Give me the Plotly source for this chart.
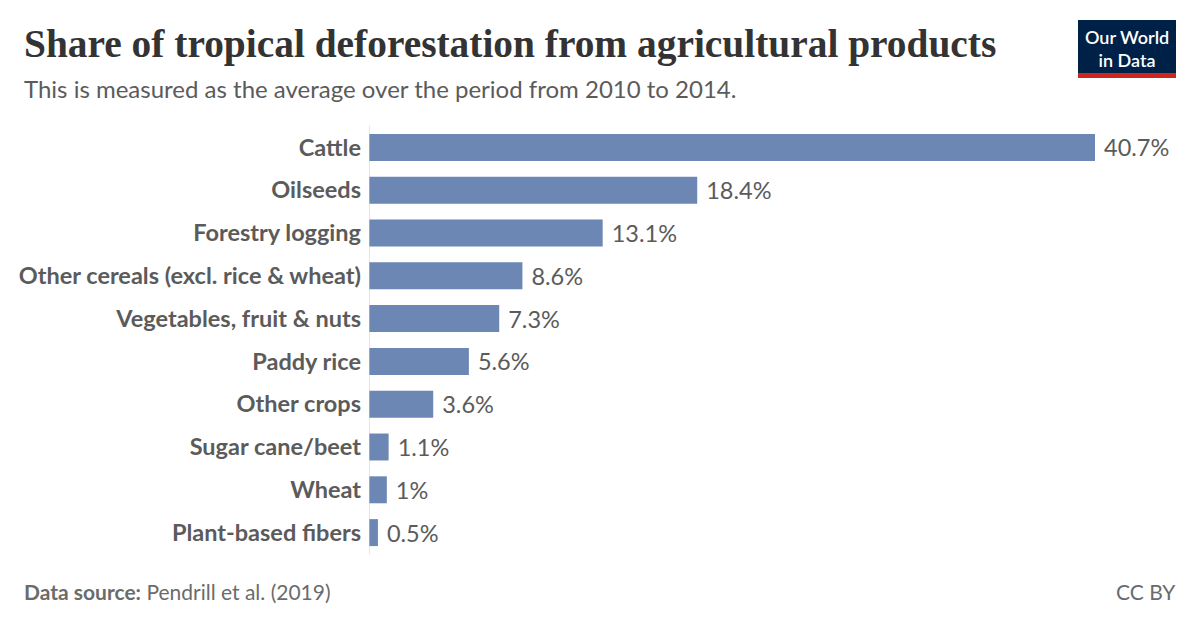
import plotly.graph_objects as go

categories = ["Cattle", "Oilseeds", "Forestry logging", "Other cereals (excl. rice & wheat)",
              "Vegetables, fruit & nuts", "Paddy rice", "Other crops", "Sugar cane/beet",
              "Wheat", "Plant-based fibers"]
values = [40.7, 18.4, 13.1, 8.6, 7.3, 5.6, 3.6, 1.1, 1.0, 0.5]
labels = [f" {v:g}%" for v in values]

W, H = 1200, 627
L, R, T, B = 369, 20, 126, 73
PW, PH = W - L - R, H - T - B
px_per_unit = (1095 - 369) / 40.7
xmax = PW / px_per_unit


def fx(px):
    return (px - L) / PW


def fy(py):
    return (H - B - py) / PH


fig = go.Figure(go.Bar(
    y=categories, x=values, orientation="h",
    marker=dict(color="#6D87B4", line=dict(width=0)),
    text=labels, textposition="outside", constraintext="none", cliponaxis=False,
    textfont=dict(family="Lato", size=23.5, color="#5b5b5b"),
    hoverinfo="skip",
))

fig.update_layout(
    width=W, height=H,
    margin=dict(l=L, r=R, t=T, b=B),
    paper_bgcolor="white", plot_bgcolor="white",
    bargap=0.37,
    showlegend=False,
    xaxis=dict(range=[0, xmax], visible=False, fixedrange=True),
    yaxis=dict(autorange="reversed", showgrid=False, zeroline=False,
               showline=False, ticks="", ticklabelstandoff=7,
               tickfont=dict(family="Lato", size=23.5, color="#5b5b5b", weight="bold")),
    shapes=[dict(type="line", xref="x", yref="paper", x0=0, x1=0, y0=0, y1=1,
                 line=dict(color="#cccccc", width=1)),
            dict(type="rect", xref="paper", yref="paper",
                 x0=fx(1078), x1=fx(1176), y0=fy(73), y1=fy(20),
                 fillcolor="#002147", line=dict(width=0), layer="above"),
            dict(type="rect", xref="paper", yref="paper",
                 x0=fx(1078), x1=fx(1176), y0=fy(78), y1=fy(73),
                 fillcolor="#ce261e", line=dict(width=0), layer="above")],
    annotations=[
        dict(text="Share of tropical deforestation from agricultural products",
             xref="paper", yref="paper", x=fx(22), y=fy(44),
             xanchor="left", yanchor="middle", showarrow=False,
             font=dict(family="Liberation Serif", size=39.4, color="#333333", weight="bold")),
        dict(text="This is measured as the average over the period from 2010 to 2014.",
             xref="paper", yref="paper", x=fx(22), y=fy(88),
             xanchor="left", yanchor="middle", showarrow=False,
             font=dict(family="Lato", size=24, color="#5b5b5b")),
        dict(text="Our World<br>in Data", xref="paper", yref="paper",
             x=fx(1127), y=fy(48),
             xanchor="center", yanchor="middle", showarrow=False, align="center",
             font=dict(family="Lato", size=18, color="white", weight=600)),
        dict(text="<b>Data source:</b> Pendrill et al. (2019)",
             xref="paper", yref="paper", x=fx(22), y=fy(591),
             xanchor="left", yanchor="middle", showarrow=False,
             font=dict(family="Lato", size=21, color="#6b6b6b")),
        dict(text="CC BY", xref="paper", yref="paper",
             x=fx(1178), y=fy(591),
             xanchor="right", yanchor="middle", showarrow=False,
             font=dict(family="Lato", size=21, color="#6b6b6b")),
    ],
)

fig.write_html("out.html")
